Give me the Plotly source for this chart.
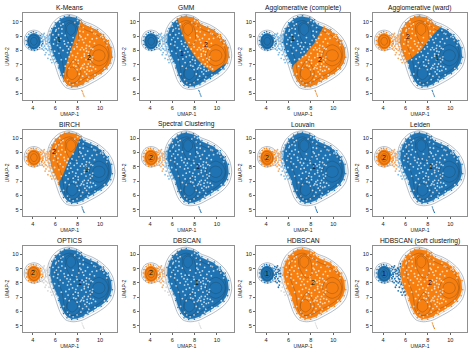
import plotly.graph_objects as go

W, H = 474, 355
FONT = "Liberation Sans"
BLUE = "#1f73b2"
ORANGE = "#f77f10"
PALE = "#d9d9d9"
LBLUE = "#7dbbe6"
LORANGE = "#f9a75c"

TITLES = ["K-Means", "GMM", "Agglomerative (complete)", "Agglomerative (ward)",
          "BIRCH", "Spectral Clustering", "Louvain", "Leiden",
          "OPTICS", "DBSCAN", "HDBSCAN", "HDBSCAN (soft clustering)"]

# main lobe outline
MAIN_X = [7.2, 7.8, 8.25, 8.55, 9.1, 9.7, 10.25, 10.7, 10.98, 11.05, 10.9, 10.6, 10.05, 9.4, 8.9, 8.45,
          7.95, 7.5, 7.1, 6.8, 6.55, 6.35, 6.15, 5.9, 5.7, 5.55, 5.58, 5.75, 6.05, 6.5, 6.85]
MAIN_Y = [10.38, 10.28, 10.12, 9.8, 9.62, 9.42, 9.08, 8.65, 8.15, 7.57, 7.15, 6.75, 6.4, 6.08, 5.85, 5.65,
          5.5, 5.47, 5.6, 5.9, 6.3, 6.8, 7.25, 7.65, 8.1, 8.6, 9.05, 9.5, 9.9, 10.2, 10.33]
# stray points just off the main outline, one beside each outline vertex
EDGE_X = [7.25, 7.9, 8.33, 8.66, 9.18, 9.78, 10.32, 10.76, 11.05, 11.11, 10.96, 10.64, 10.1, 9.42, 8.93, 8.48,
          7.98, 7.47, 7.05, 6.75, 6.5, 6.3, 6.1, 5.85, 5.65, 5.49, 5.52, 5.7, 6.0, 6.45, 6.82]
EDGE_Y = [10.42, 10.32, 10.14, 9.85, 9.66, 9.47, 9.12, 8.7, 8.18, 7.52, 7.1, 6.7, 6.36, 6.03, 5.8, 5.6,
          5.45, 5.43, 5.55, 5.85, 6.27, 6.77, 7.22, 7.62, 8.07, 8.55, 9.08, 9.53, 9.94, 10.23, 10.37]

# small left lobe outline
LEFT_X = [4.1, 4.42, 4.66, 4.72, 4.62, 4.38, 4.08, 3.78, 3.55, 3.48, 3.56, 3.8]
LEFT_Y = [9.22, 9.12, 8.92, 8.62, 8.34, 8.14, 8.06, 8.14, 8.36, 8.64, 8.94, 9.14]
LEDGE_X = [4.05, 4.3, 4.55, 4.75, 4.82, 4.78, 4.6, 4.42, 4.15, 3.88, 3.62, 3.45, 3.4, 3.46, 3.65, 3.85, 4.7, 4.88]
LEDGE_Y = [9.3, 9.24, 9.06, 8.85, 8.62, 8.38, 8.2, 8.07, 8.0, 8.04, 8.18, 8.42, 8.7, 8.95, 9.14, 9.26, 9.02, 8.48]

# second cluster boundaries, per panel (divider vertices)
KM_DIV_X = [6.75, 7.0, 7.4, 7.9]
KM_DIV_Y = [6.2, 7.0, 8.0, 9.1]
GMM_DIV_X = [9.65, 8.9, 8.17, 7.6, 7.12, 6.8, 6.55]
GMM_DIV_Y = [6.5, 6.9, 7.45, 8.1, 8.74, 9.4, 10.0]
AC_DIV_X = [6.5, 7.0, 7.6, 8.3]
AC_DIV_Y = [7.0, 7.35, 7.8, 8.5]
WARD_DIV_X = [8.3, 7.4, 6.6]
WARD_DIV_Y = [8.97, 8.04, 7.5]
BIRCH_DIV_X = [7.7, 7.2, 6.74, 6.4]
BIRCH_DIV_Y = [9.1, 8.5, 7.55, 7.0]

# contours
OUT1_X = [7.2, 8.0, 8.55, 9.3, 10.0, 10.7, 11.15, 11.33, 11.1, 10.6, 9.9, 9.1, 8.4, 7.6, 6.95, 6.5, 6.2,
          5.95, 5.65, 5.42, 5.3, 5.42, 5.8, 6.4, 7.2]
OUT1_Y = [10.52, 10.35, 10.05, 9.82, 9.5, 9.0, 8.4, 7.6, 6.9, 6.4, 6.0, 5.65, 5.38, 5.27, 5.4, 5.85, 6.45,
          7.05, 7.6, 8.2, 8.8, 9.4, 9.95, 10.35, 10.52]
OUT2_X = [7.2, 7.95, 8.45, 9.2, 9.9, 10.55, 11.0, 11.15, 10.95, 10.45, 9.75, 9.0, 8.35, 7.6, 7.05, 6.65, 6.35,
          6.1, 5.8, 5.58, 5.45, 5.58, 5.95, 6.5, 7.2]
OUT2_Y = [10.45, 10.28, 9.98, 9.72, 9.42, 8.93, 8.35, 7.6, 6.98, 6.52, 6.12, 5.78, 5.52, 5.38, 5.5, 5.95, 6.55,
          7.15, 7.7, 8.25, 8.8, 9.35, 9.85, 10.22, 10.45]
LOUT1_X = [4.1, 4.6, 5.0, 5.15, 4.95, 4.5, 4.05, 3.55, 3.27, 3.27, 3.55, 4.1]
LOUT1_Y = [9.42, 9.3, 8.95, 8.55, 8.2, 8.06, 7.98, 8.12, 8.45, 8.9, 9.28, 9.42]
LOUT2_X = [4.1, 4.55, 4.85, 4.92, 4.75, 4.4, 4.05, 3.62, 3.4, 3.4, 3.62, 4.1]
LOUT2_Y = [9.32, 9.2, 8.9, 8.55, 8.25, 8.1, 8.05, 8.2, 8.5, 8.85, 9.18, 9.32]
LIN1_X = [4.1, 4.4, 4.58, 4.55, 4.32, 4.05, 3.78, 3.62, 3.65, 3.85, 4.1]
LIN1_Y = [9.08, 8.98, 8.68, 8.4, 8.22, 8.18, 8.3, 8.6, 8.88, 9.05, 9.08]
LIN2_X = [4.1, 4.3, 4.4, 4.32, 4.1, 3.9, 3.8, 3.9, 4.1]
LIN2_Y = [8.92, 8.85, 8.65, 8.45, 8.36, 8.45, 8.65, 8.85, 8.92]
IN1_X = [7.3, 8.0, 8.7, 9.6, 10.3, 10.75, 10.8, 10.5, 9.7, 8.8, 8.0, 7.4, 6.9, 6.75, 6.6, 6.25, 6.05, 6.2, 6.7, 7.3]
IN1_Y = [10.1, 9.85, 9.45, 9.15, 8.75, 8.1, 7.5, 6.95, 6.45, 6.1, 5.75, 5.7, 6.05, 6.7, 7.4, 8.1, 8.8, 9.5, 9.95, 10.1]
PK1_X = [9.9, 10.3, 10.45, 10.3, 9.9, 9.5, 9.35, 9.5, 9.9]
PK1_Y = [8.05, 7.93, 7.65, 7.37, 7.25, 7.37, 7.65, 7.93, 8.05]
PK2_X = [9.9, 10.5, 10.75, 10.5, 9.9, 9.3, 9.05, 9.3, 9.9]
PK2_Y = [8.4, 8.15, 7.65, 7.15, 6.92, 7.15, 7.65, 8.15, 8.4]
TOP1_X = [7.4, 7.85, 8.05, 8.05, 7.6, 7.1, 6.9, 6.95, 7.4]
TOP1_Y = [10.0, 9.75, 9.3, 8.6, 8.35, 8.85, 9.4, 9.8, 10.0]
TOP2_X = [7.4, 7.75, 7.8, 7.4, 7.05, 7.05, 7.4]
TOP2_Y = [9.9, 9.7, 9.35, 9.05, 9.3, 9.7, 9.9]
BOT1_X = [7.65, 8.15, 8.3, 7.95, 7.45, 7.05, 7.05, 7.3, 7.65]
BOT1_Y = [7.35, 6.8, 6.35, 5.85, 5.72, 6.1, 6.6, 7.0, 7.35]
BOT2_X = [7.5, 7.95, 7.95, 7.5, 7.1, 7.1, 7.5]
BOT2_Y = [6.85, 6.55, 6.2, 5.95, 6.2, 6.55, 6.85]

# light gaps between points in the main lobe
GAP_X = [6.1, 6.3, 6.5, 6.25, 6.6, 6.45, 6.8, 6.35, 6.7, 6.95, 6.55, 6.9, 7.1, 6.75, 7.25, 7.05, 7.4, 7.15, 7.55, 7.35,
         7.7, 7.9, 8.1, 7.8, 8.3, 8.0, 8.5, 8.2, 8.7, 8.4, 8.9, 8.6, 9.1, 8.8, 9.3, 9.0, 9.5, 9.2, 8.15, 8.35,
         8.55, 8.75, 8.95, 9.15, 9.35, 7.6, 7.85, 8.05, 8.25, 8.45, 8.65, 8.85, 9.05, 8.45, 8.6, 8.8, 9.0, 9.25, 9.55, 9.8,
         10.05, 10.35, 10.6, 10.75, 8.9, 8.7, 8.3, 8.15, 7.95, 7.6, 6.55, 6.25, 5.95, 6.1, 5.85, 7.1, 7.3, 6.85, 8.5, 8.25,
         9.45, 9.7, 10.2, 9.6, 10.45, 7.75, 8.0, 8.55, 8.8, 9.1, 9.35, 7.25, 6.7, 6.4, 6.0, 5.8,
         7.6, 7.95, 8.2, 8.45, 8.75, 9.05, 9.3, 8.95, 8.6, 8.25, 7.85, 7.5, 7.15, 6.85, 6.5, 6.2, 5.95, 6.05, 6.3, 6.6,
         6.9, 7.2, 8.05, 8.35, 8.55, 8.85, 9.15, 9.4, 7.65, 7.95, 9.25, 9.6, 9.95, 10.25, 10.55, 10.65, 10.4]
GAP_Y = [9.45, 9.1, 9.75, 8.6, 9.2, 8.2, 8.65, 7.8, 8.0, 7.4, 7.35, 6.9, 7.85, 6.35, 7.55, 8.3, 7.9, 7.15, 7.65, 8.25,
         8.1, 8.45, 8.7, 7.35, 8.95, 7.8, 9.3, 9.35, 8.85, 8.2, 9.1, 7.75, 8.6, 8.35, 8.8, 7.9, 8.5, 8.15, 9.75, 7.5,
         8.55, 7.35, 7.7, 7.2, 8.1, 7.2, 6.9, 7.1, 6.7, 6.95, 6.5, 6.85, 6.55, 6.2, 7.05, 6.35, 6.15, 6.6, 6.3, 6.25,
         8.95, 8.7, 8.35, 6.85, 5.95, 5.75, 5.95, 6.35, 5.75, 5.62, 5.95, 7.0, 7.95, 8.9, 8.45, 5.95, 5.75, 5.7, 9.6, 10.0,
         9.2, 8.85, 9.05, 6.7, 6.55, 9.95, 10.1, 8.05, 7.95, 7.45, 7.55, 6.75, 9.85, 10.0, 9.7, 9.1,
         8.9, 8.25, 9.05, 8.75, 8.15, 8.3, 7.35, 7.05, 7.6, 8.05, 7.55, 8.55, 8.55, 8.45, 8.85, 8.35, 8.75, 9.35, 9.55, 9.5,
         9.05, 8.1, 7.3, 6.8, 6.75, 6.65, 6.9, 6.85, 6.95, 6.65, 9.4, 9.15, 9.3, 8.9, 8.85, 8.55, 6.75]

# loose points between the two lobes
BR_NEAR_X = [4.78, 4.85, 4.95, 5.0, 5.08, 5.15, 4.9, 5.05, 5.2, 5.12, 4.8, 5.25, 4.98, 5.22, 5.18, 4.88, 5.28, 5.1, 4.72, 5.02, 4.92, 5.14, 5.3, 4.84]
BR_NEAR_Y = [9.15, 8.95, 9.1, 8.75, 8.95, 8.65, 8.45, 8.3, 8.9, 8.15, 8.3, 8.45, 8.02, 8.1, 7.85, 8.7, 9.05, 7.7, 8.55, 9.2, 8.6, 8.82, 8.65, 8.1]
BR_FAR_X = [5.35, 5.45, 5.55, 5.4, 5.6, 5.5, 5.7, 5.35, 5.65, 5.8, 5.45, 5.75, 5.9, 5.6, 5.35, 5.55, 5.85, 5.95, 5.7, 6.0, 5.4, 5.65, 5.85, 6.05, 5.42, 5.52, 5.38, 5.58, 5.48, 5.62]
BR_FAR_Y = [9.05, 8.85, 9.15, 8.55, 8.7, 8.25, 8.4, 8.0, 8.0, 7.85, 7.7, 7.6, 7.65, 7.35, 7.45, 9.35, 7.35, 7.4, 7.15, 7.15, 8.95, 9.0, 8.15, 7.75, 8.75, 8.6, 8.3, 8.45, 8.1, 7.9]
TAIL_X = [8.38, 8.42, 8.47, 8.5, 8.54, 8.58]
TAIL_Y = [5.2, 5.12, 5.02, 4.95, 4.88, 4.8]

# cluster label positions
LAB1_X = [6.3, 6.83, 6.4, 8.82, 8.82, 8.26, 8.25, 8.25, 8.2, 8.2, 4.05, 4.05]
LAB1_Y = [8.8, 7.8, 8.85, 7.52, 7.8, 8.0, 8.0, 8.0, 8.05, 8.05, 8.7, 8.7]
LAB2_X = [9.03, 9.0, 8.85, 6.26, 5.93, 4.1, 4.1, 4.1, 4.0, 4.05, 8.2, 8.2]
LAB2_Y = [7.52, 8.43, 7.4, 8.97, 9.06, 8.68, 8.65, 8.65, 8.75, 8.72, 8.05, 8.05]

B, O, N = BLUE, ORANGE, PALE
# per-panel colours
C_LEFT = [B, B, B, O, O, O, O, O, O, O, B, B]
C_MAIN = [B, B, B, B, B, B, B, B, B, B, O, O]
C_NEAR = [LBLUE, LBLUE, LBLUE, LORANGE, LORANGE, LORANGE, LORANGE, LORANGE, N, LORANGE, B, B]
C_FAR = [LBLUE, LBLUE, LBLUE, LORANGE, LORANGE, LBLUE, LBLUE, LBLUE, N, N, N, B]
C_TAIL = [O, B, O, B, B, B, B, B, N, N, N, O]

# vertex index runs along the main outline, closed by each divider
def run(a, b):
    n = len(MAIN_X)
    out = [a]
    while out[-1] != b:
        out.append((out[-1] + 1) % n)
    return out

OVERLAYS = {0: (run(2, 19), KM_DIV_X, KM_DIV_Y),
            1: (run(29, 10), GMM_DIV_X, GMM_DIV_Y),
            2: (run(4, 21), AC_DIV_X, AC_DIV_Y),
            3: (run(22, 4), WARD_DIV_X, WARD_DIV_Y),
            4: (run(21, 2), BIRCH_DIV_X, BIRCH_DIV_Y)}

COL_L = [22.7, 140, 256, 373]
COL_R = [116.7, 233.5, 350, 467]
ROW_T = [13.3, 129.7, 246]
ROW_B = [100, 216.3, 332.3]

fig = go.Figure()
layout = dict(width=W, height=H, autosize=False, showlegend=False,
              margin=dict(l=0, r=0, t=0, b=0),
              paper_bgcolor="white", plot_bgcolor="white",
              font=dict(family=FONT, size=5.6, color="#222"))
ann = []

def line(x, y, color, width, axis):
    fig.add_trace(go.Scatter(x=x, y=y, mode="lines", hoverinfo="skip",
                             line=dict(color=color, width=width, shape="spline", smoothing=0.8),
                             xaxis=axis[0], yaxis=axis[1]))

def fill(x, y, color, axis):
    fig.add_trace(go.Scatter(x=x, y=y, mode="lines", fill="toself", fillcolor=color, hoverinfo="skip",
                             line=dict(color=color, width=0.4),
                             xaxis=axis[0], yaxis=axis[1]))

def dots(x, y, color, size, axis):
    fig.add_trace(go.Scatter(x=x, y=y, mode="markers", hoverinfo="skip",
                             marker=dict(color=color, size=size, line=dict(width=0)),
                             xaxis=axis[0], yaxis=axis[1]))

for i, title in enumerate(TITLES):
    r, c = divmod(i, 4)
    n = i + 1
    xa, ya = f"x{n}", f"y{n}"
    axis = (xa, ya)
    layout[f"xaxis{n}"] = dict(domain=[COL_L[c] / W, COL_R[c] / W], range=[3.1, 11.49], anchor=ya,
                               tickvals=[4, 6, 8, 10], ticks="outside", ticklen=2, tickwidth=0.6,
                               tickcolor="#666", showgrid=False, zeroline=False, showline=True, mirror=True,
                               linecolor="#8f8f8f", linewidth=1, tickfont=dict(size=5.6, family=FONT, color="#222"),
                               title=dict(text="UMAP-1", font=dict(size=5, family=FONT, color="#222"), standoff=1))
    layout[f"yaxis{n}"] = dict(domain=[1 - ROW_B[r] / H, 1 - ROW_T[r] / H], range=[4.53, 10.6], anchor=xa,
                               tickvals=[5, 6, 7, 8, 9, 10], ticks="outside", ticklen=2, tickwidth=0.6,
                               tickcolor="#666", showgrid=False, zeroline=False, showline=True, mirror=True,
                               linecolor="#8f8f8f", linewidth=1, tickfont=dict(size=5.6, family=FONT, color="#222"),
                               title=dict(text="UMAP-2", font=dict(size=5, family=FONT, color="#222"), standoff=2))
    ann.append(dict(text=title, xref="paper", yref="paper",
                    x=(COL_L[c] + COL_R[c]) / 2 / W, y=1 - (ROW_T[r] - 5.5) / H,
                    showarrow=False, font=dict(size=6.7, family=FONT, color="#111"),
                    xanchor="center", yanchor="middle"))

    line(OUT1_X, OUT1_Y, "#7d8fa0", 0.6, axis)
    line(OUT2_X, OUT2_Y, "#9fb6c8", 0.5, axis)
    line(LOUT1_X, LOUT1_Y, "#7d8fa0", 0.6, axis)
    line(LOUT2_X, LOUT2_Y, "#9fb6c8", 0.5, axis)

    dots(BR_NEAR_X, BR_NEAR_Y, C_NEAR[i], 1.8, axis)
    dots(BR_FAR_X, BR_FAR_Y, C_FAR[i], 1.8, axis)
    dots(TAIL_X, TAIL_Y, C_TAIL[i], 1.2, axis)

    ov = OVERLAYS.get(i)
    edge_col = [ORANGE if ov and k in ov[0] else C_MAIN[i] for k in range(len(MAIN_X))]
    dots(EDGE_X, EDGE_Y, edge_col, 1.5, axis)
    dots(LEDGE_X, LEDGE_Y, C_LEFT[i], 1.5, axis)

    fill(MAIN_X + MAIN_X[:1], MAIN_Y + MAIN_Y[:1], C_MAIN[i], axis)
    if ov:
        idx, dx, dy = ov
        fill([MAIN_X[k] for k in idx] + dx, [MAIN_Y[k] for k in idx] + dy, ORANGE, axis)
    fill(LEFT_X + LEFT_X[:1], LEFT_Y + LEFT_Y[:1], C_LEFT[i], axis)

    dots(GAP_X, GAP_Y, "rgba(255,255,255,0.72)", 1.8, axis)

    for cx, cy in [(IN1_X, IN1_Y), (PK1_X, PK1_Y), (PK2_X, PK2_Y), (TOP1_X, TOP1_Y), (TOP2_X, TOP2_Y),
                   (BOT1_X, BOT1_Y), (BOT2_X, BOT2_Y), (LIN1_X, LIN1_Y), (LIN2_X, LIN2_Y)]:
        line(cx, cy, "rgba(30,30,30,0.4)", 0.5, axis)

    for lx, ly, t in [(LAB1_X[i], LAB1_Y[i], "1"), (LAB2_X[i], LAB2_Y[i], "2")]:
        ann.append(dict(text=t, xref=xa, yref=ya, x=lx, y=ly, showarrow=False,
                        font=dict(size=7, family=FONT, color="#111")))

layout["annotations"] = ann
fig.update_layout(**layout)
fig.write_html("out.html", config={"displayModeBar": False},
               post_script="document.body.style.margin='0';document.body.style.overflow='hidden';")
